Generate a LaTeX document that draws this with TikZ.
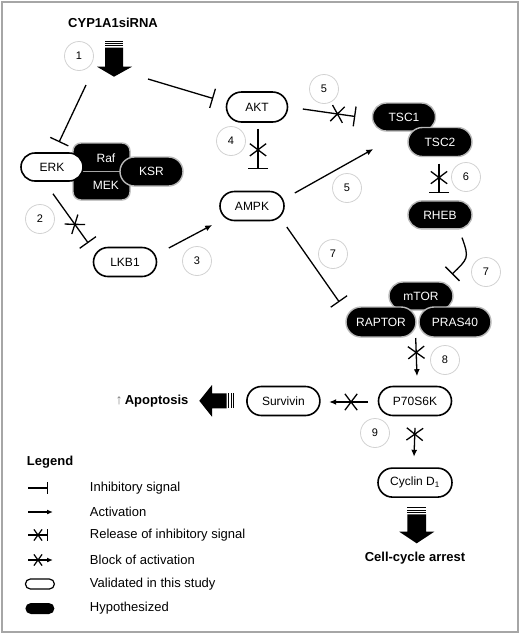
\documentclass[tikz,border=0pt]{standalone}
\usepackage{fontspec}
\setmainfont{Liberation Sans}
\usetikzlibrary{arrows.meta, shapes.misc, positioning}

\begin{document}
\begin{tikzpicture}[x=1pt,y=-1pt,line width=1.3pt,>={Latex[length=7pt,width=6pt]},
  base node/.style={rounded rectangle,minimum width=67pt,minimum height=29pt,inner sep=2pt,font=\fontsize{12}{14}\selectfont},
  valid node/.style={base node,draw=black,line width=1.6pt,fill=white},
  hyp node/.style={base node,draw=gray!55,line width=1.4pt,fill=black,text=white},
  num node/.style={circle,draw=gray!35,line width=0.8pt,minimum size=29pt,inner sep=0pt,font=\fontsize{11}{13}\selectfont},
  inh/.style={-{Bar[width=20pt]}},
  act/.style={->},
  xmark/.style={cross out,draw,sloped,minimum width=11pt,minimum height=15pt,inner sep=0pt},
  head text/.style={font=\fontsize{13}{15}\selectfont\bfseries},
  legend text/.style={anchor=west,font=\fontsize{13}{15}\selectfont}]
  \useasboundingbox (0,0) rectangle (520,633);
  \draw[gray!70,line width=2pt] (1.5,1.5) rectangle (517.5,631.5);

  % siRNA and the big arrows
  \node[head text] (sirna) at (113,23) {CYP1A1siRNA};
  \foreach \y in {41,43.4,45.8} {\draw[line width=1pt] (105,\y) -- (123,\y);}
  \fill (105,47.7) -- (123,47.7) -- (123,66.7) -- (132,66.7) -- (114,76.7) -- (97,66.7) -- (105,66.7) -- cycle;

  % ERK / Raf / MEK / KSR
  \node[fill=black,draw=gray!55,line width=1.4pt,rounded corners=8pt,minimum width=57pt,minimum height=57pt] (rafmek) at (101.5,171.5) {};
  \draw[gray!70,line width=1pt] (rafmek.west) -- (rafmek.east);
  \node[text=white,font=\fontsize{12}{14}\selectfont] (raf) at (106,158) {Raf};
  \node[text=white,font=\fontsize{12}{14}\selectfont] (mek) at (106,185) {MEK};
  \node[valid node,minimum width=66pt,minimum height=28pt] (erk) at (52,167) {ERK};
  \node[hyp node] (ksr) at (151.5,171.5) {KSR};

  \node[valid node] (lkb) at (125,262) {LKB1};
  \node[valid node,minimum width=65pt,minimum height=30pt] (akt) at (257,107) {AKT};
  \node[valid node,minimum width=68pt] (ampk) at (252,206) {AMPK};

  % TSC / RHEB / mTOR complex
  \node[hyp node,minimum height=28pt] (tsc1) at (404,117) {TSC1};
  \node[hyp node,minimum width=68pt] (tsc2) at (440,142) {TSC2};
  \node[hyp node,minimum width=68pt,minimum height=28pt] (rheb) [below=43pt of tsc2] {RHEB};
  \node[hyp node,minimum width=68pt,minimum height=28pt] (mtor) at (421,296) {mTOR};
  \node[hyp node,minimum width=74pt,minimum height=30pt] (raptor) at (381,322) {RAPTOR};
  \node[hyp node,minimum width=76pt,minimum height=30pt] (pras) at (455,322) {PRAS40};

  % downstream
  \node[valid node,minimum width=77pt] (p70) at (415,401) {P70S6K};
  \node[valid node,minimum width=77pt] (surv) [left=57pt of p70] {Survivin};
  \node[valid node,minimum width=78pt] (cyc) [below=51pt of p70] {Cyclin D\textsubscript{1}};

  \node[head text] (apop) at (152,401) {{\mdseries\color{gray}\fontsize{14}{15}\selectfont ↑}\,Apoptosis};
  \foreach \x in {228.3,231,233.7} {\draw[line width=1pt] (\x,393.3) -- (\x,408.3);}
  \fill (226.7,393.3) -- (226.7,408.3) -- (212,408.3) -- (212,416.7) -- (199.3,400.8) -- (212,385) -- (212,393.3) -- cycle;

  \foreach \y in {507.7,510,512.3} {\draw[line width=1pt] (407.3,\y) -- (426,\y);}
  \fill (407.3,514.3) -- (426,514.3) -- (426,531.7) -- (434.3,531.7) -- (416.7,543.3) -- (399.3,531.7) -- (407.3,531.7) -- cycle;
  \node[head text] (arrest) at (415,558) {Cell-cycle arrest};

  % connectors
  \coordinate (s1) at (86,85);
  \coordinate (s2) at (148,79);
  \draw[inh] (s1) -- ([xshift=7pt,yshift=10pt]erk.north);
  \draw[inh] (s2) -- ([xshift=-12.5pt,yshift=8.5pt]akt.west);
  \draw[inh] ([xshift=1pt,yshift=-12pt]erk.south) -- node[xmark,pos=0.62] (x1) {} ([xshift=-4.5pt,yshift=19pt]lkb.west);
  \draw[act] ([xshift=11.5pt,yshift=14pt]lkb.east) -- ([xshift=-7pt,yshift=-19pt]ampk.west);
  \draw[inh] ([xshift=1pt,yshift=-6pt]akt.south) -- node[xmark,pos=0.52] (x2) {} ([xshift=6pt,yshift=21.5pt]ampk.north);
  \draw[inh] ([xshift=14.5pt,yshift=-2pt]akt.east) -- node[xmark,pos=0.66] (x3) {} ([xshift=-16.5pt,yshift=0.5pt]tsc1.west);
  \draw[act] ([xshift=10pt,yshift=13pt]ampk.east) -- ([xshift=-34pt,yshift=-7pt]tsc2.west);
  \draw[inh] ([xshift=2pt,yshift=-21pt]ampk.east) -- ([xshift=-6pt,yshift=20pt]raptor.west);
  \draw[inh] ([xshift=-1pt,yshift=-6.5pt]tsc2.south) -- node[xmark,pos=0.47] (x4) {} ([xshift=-1pt,yshift=7pt]rheb.north);
  \draw[inh] ([xshift=22pt,yshift=-8pt]rheb.south) to[out=-70,in=45,looseness=1.5] ([xshift=31pt,yshift=7pt]mtor.north);
  \draw[act] ([xshift=-1pt,yshift=-16pt]raptor.east) -- node[xmark,pos=0.38] (x5) {} ([xshift=2pt,yshift=9.5pt]p70.north);
  \draw[act] ([xshift=-9.5pt,yshift=-1pt]p70.west) -- node[xmark,pos=0.44] (x6) {} ([xshift=8.5pt,yshift=-1pt]surv.east);
  \draw[act] ([yshift=-11.5pt]p70.south) -- node[xmark,pos=0.22] (x7) {} ([xshift=-1pt,yshift=10.5pt]cyc.north);

  % numbers
  \foreach \i/\x/\y/\n in {1/79/56/1, 2/40/219/2, 3/197/261/3, 4/231/141/4, 5/324/89/5, 6/347/188/5,
    7/466/177/6, 8/333/254/7, 9/486/272/7, 10/445/360/8, 11/375/433/9}
    {\node[num node] (num\i) at (\x,\y) {\n};}

  % legend
  \node[head text,anchor=west] (legend) at (23,462) {Legend};
  \foreach \n/\y/\t in {li/488/Inhibitory signal, la/512/Activation, lr/535/Release of inhibitory signal,
    lb/560/Block of activation, lv/584/Validated in this study, lh/608.5/Hypothesized}
    {\node[legend text] (\n) at (86,\y) {\t};}
  \begin{scope}[line width=1.2pt,>={Latex[length=6pt,width=5pt]}]
    \draw[-{Bar[width=12pt]}] ([xshift=-58pt]li.west) -- ([xshift=-38pt]li.west);
    \draw[->] ([xshift=-58pt]la.west) -- ([xshift=-33pt]la.west);
    \draw[-{Bar[width=12pt]}] ([xshift=-58pt]lr.west) -- node[xmark,minimum width=7pt,minimum height=10pt] (lx1) {} ([xshift=-38pt]lr.west);
    \draw[->] ([xshift=-58pt]lb.west) -- node[xmark,pos=0.4,minimum width=7pt,minimum height=10pt] (lx2) {} ([xshift=-33pt]lb.west);
    \node[rounded rectangle,draw,minimum width=29pt,minimum height=10pt,inner sep=0pt] (lvs) [left=31pt of lv] {};
    \node[rounded rectangle,fill=black,minimum width=29pt,minimum height=11pt,inner sep=0pt] (lhs) [left=31pt of lh] {};
  \end{scope}
\end{tikzpicture}
\end{document}
